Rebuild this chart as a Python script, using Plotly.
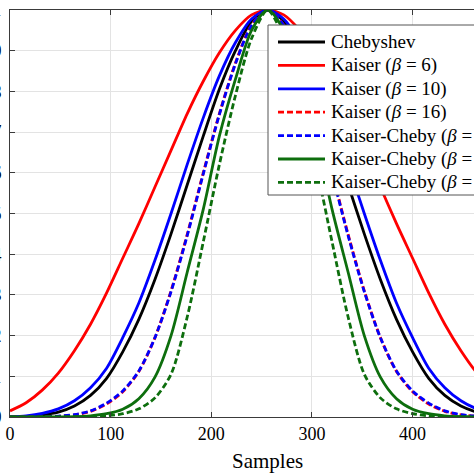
import plotly.graph_objects as go

# window index (samples) and amplitudes
SAMPLES = [0, 16, 32, 48, 64, 80, 96, 112, 128, 144, 160, 176, 192, 208, 224, 240, 256,
           272, 288, 304, 320, 336, 352, 368, 384, 400, 416, 432, 448, 464, 480, 496, 512]

CHEBYSHEV = [0.0, 0.001, 0.005, 0.012, 0.027, 0.053, 0.095, 0.16, 0.24, 0.338, 0.45, 0.57, 0.69,
             0.805, 0.9, 0.972, 1.0, 0.972, 0.9, 0.805, 0.69, 0.57, 0.45, 0.338, 0.24, 0.16,
             0.095, 0.053, 0.027, 0.012, 0.005, 0.001, 0.0]
KAISER_6 = [0.015, 0.035, 0.066, 0.108, 0.163, 0.228, 0.305, 0.39, 0.475, 0.565, 0.655, 0.745,
            0.825, 0.895, 0.95, 0.988, 1.0, 0.988, 0.95, 0.895, 0.825, 0.745, 0.655, 0.565,
            0.475, 0.39, 0.305, 0.228, 0.163, 0.108, 0.066, 0.035, 0.015]
KAISER_10 = [0.0004, 0.003, 0.009, 0.02, 0.04, 0.072, 0.12, 0.195, 0.28, 0.385, 0.5, 0.62,
             0.735, 0.838, 0.92, 0.978, 1.0, 0.978, 0.92, 0.838, 0.735, 0.62, 0.5, 0.385,
             0.28, 0.195, 0.12, 0.072, 0.04, 0.02, 0.009, 0.003, 0.0004]
KAISER_16 = [0.0, 0.0, 0.0004, 0.0016, 0.005, 0.014, 0.032, 0.062, 0.112, 0.195, 0.31, 0.448,
             0.6, 0.745, 0.87, 0.963, 1.0, 0.963, 0.87, 0.745, 0.6, 0.448, 0.31, 0.195, 0.112,
             0.062, 0.032, 0.014, 0.005, 0.0016, 0.0004, 0.0, 0.0]
KC_6 = [0.0, 0.0, 0.0005, 0.002, 0.006, 0.015, 0.034, 0.064, 0.113, 0.195, 0.308, 0.445,
        0.597, 0.743, 0.868, 0.962, 1.0, 0.962, 0.868, 0.743, 0.597, 0.445, 0.308, 0.195,
        0.113, 0.064, 0.034, 0.015, 0.006, 0.002, 0.0005, 0.0, 0.0]
KC_10 = [0.0, 0.0, 0.0, 0.0002, 0.001, 0.003, 0.008, 0.019, 0.045, 0.098, 0.2, 0.355, 0.51,
         0.69, 0.83, 0.95, 1.0, 0.95, 0.83, 0.69, 0.51, 0.355, 0.2, 0.098, 0.045, 0.019,
         0.008, 0.003, 0.001, 0.0002, 0.0, 0.0, 0.0]
KC_16 = [0.0, 0.0, 0.0, 0.0, 0.0003, 0.001, 0.003, 0.008, 0.02, 0.047, 0.105, 0.245, 0.43,
         0.62, 0.79, 0.93, 1.0, 0.93, 0.79, 0.62, 0.43, 0.245, 0.105, 0.047, 0.02, 0.008,
         0.003, 0.001, 0.0003, 0.0, 0.0, 0.0, 0.0]

NAMES = ['Chebyshev', 'Kaiser (<i>β</i> = 6)', 'Kaiser (<i>β</i> = 10)', 'Kaiser (<i>β</i> = 16)',
         'Kaiser-Cheby (<i>β</i> = 6)', 'Kaiser-Cheby (<i>β</i> = 10)', 'Kaiser-Cheby (<i>β</i> = 16)']
SERIES = [CHEBYSHEV, KAISER_6, KAISER_10, KAISER_16, KC_6, KC_10, KC_16]

GREEN = '#0d6e0d'
DASHED = '6px,3px'
STYLES = [('black', 'solid'), ('#ff0000', 'solid'), ('#0000ff', 'solid'), ('#ff0000', DASHED),
          ('#0000ff', DASHED), (GREEN, 'solid'), (GREEN, DASHED)]

FONT = 'Liberation Serif, Times New Roman, serif'
AXIS_COLOR = '#3a3a3a'

fig = go.Figure()
for name, values, (color, dash) in zip(NAMES, SERIES, STYLES):
    fig.add_trace(go.Scatter(
        x=SAMPLES, y=values, mode='lines', name=name,
        line=dict(color=color, width=2.8, dash=dash, shape='spline', smoothing=0.8),
        showlegend=False,
    ))

# plot box: 10..474 px wide, 10..417 px tall; picture is cropped on the right
W, H = 474, 474
ML, MT, MB = 10, 10, 57
plot_w = W - ML
plot_h = H - MT - MB

def px_x(p):
    return (p - ML) / plot_w

def px_y(p):
    return (H - MB - p) / plot_h

# hand-built legend so it can run past the right edge like the original
shapes = [dict(type='rect', xref='paper', yref='paper',
               x0=px_x(268), x1=px_x(600), y0=px_y(195), y1=px_y(25),
               line=dict(color='#555555', width=1), fillcolor='white', layer='above')]
annotations = []
row0, step = 42, 23.4
for i, (name, (color, dash)) in enumerate(zip(NAMES, STYLES)):
    yy = px_y(row0 + i * step)
    shapes.append(dict(type='line', xref='paper', yref='paper',
                       x0=px_x(278), x1=px_x(325), y0=yy, y1=yy,
                       line=dict(color=color, width=2.8, dash=dash), layer='above'))
    annotations.append(dict(xref='paper', yref='paper', x=px_x(329), y=yy,
                            xanchor='left', yanchor='middle', text=name, showarrow=False,
                            font=dict(family=FONT, size=19, color='black')))

annotations.append(dict(xref='x', yref='paper', x=256, y=px_y(461), text='Samples',
                        showarrow=False, xanchor='center', yanchor='middle',
                        font=dict(family=FONT, size=21, color='black')))

fig.update_layout(
    template='none',
    width=W, height=H,
    margin=dict(l=ML, r=0, t=MT, b=MB, autoexpand=False),
    paper_bgcolor='white', plot_bgcolor='white',
    font=dict(family=FONT, size=18, color='black'),
    shapes=shapes, annotations=annotations,
    showlegend=False,
)
fig.update_xaxes(
    range=[0, 461], tick0=0, dtick=100, showgrid=True, gridcolor='#e3e3e3', gridwidth=1,
    zeroline=False, showline=True, linecolor=AXIS_COLOR, linewidth=1, mirror='ticks',
    ticks='inside', ticklen=5, tickcolor=AXIS_COLOR,
    tickfont=dict(family=FONT, size=18, color='black'), automargin=False,
)
fig.update_yaxes(
    range=[0, 1], tick0=0, dtick=0.1, showgrid=True, gridcolor='#e3e3e3', gridwidth=1,
    zeroline=False, showline=True, linecolor=AXIS_COLOR, linewidth=1, mirror=False,
    ticks='inside', ticklen=5, tickcolor=AXIS_COLOR, ticklabelstandoff=4,
    tickfont=dict(family=FONT, size=18, color='black'), automargin=False,
)

# page body has a default 8px margin; drop it so the figure sits at the window corner
fig.write_html('out.html', config={'displayModeBar': False},
               post_script="document.body.style.margin='0';")
